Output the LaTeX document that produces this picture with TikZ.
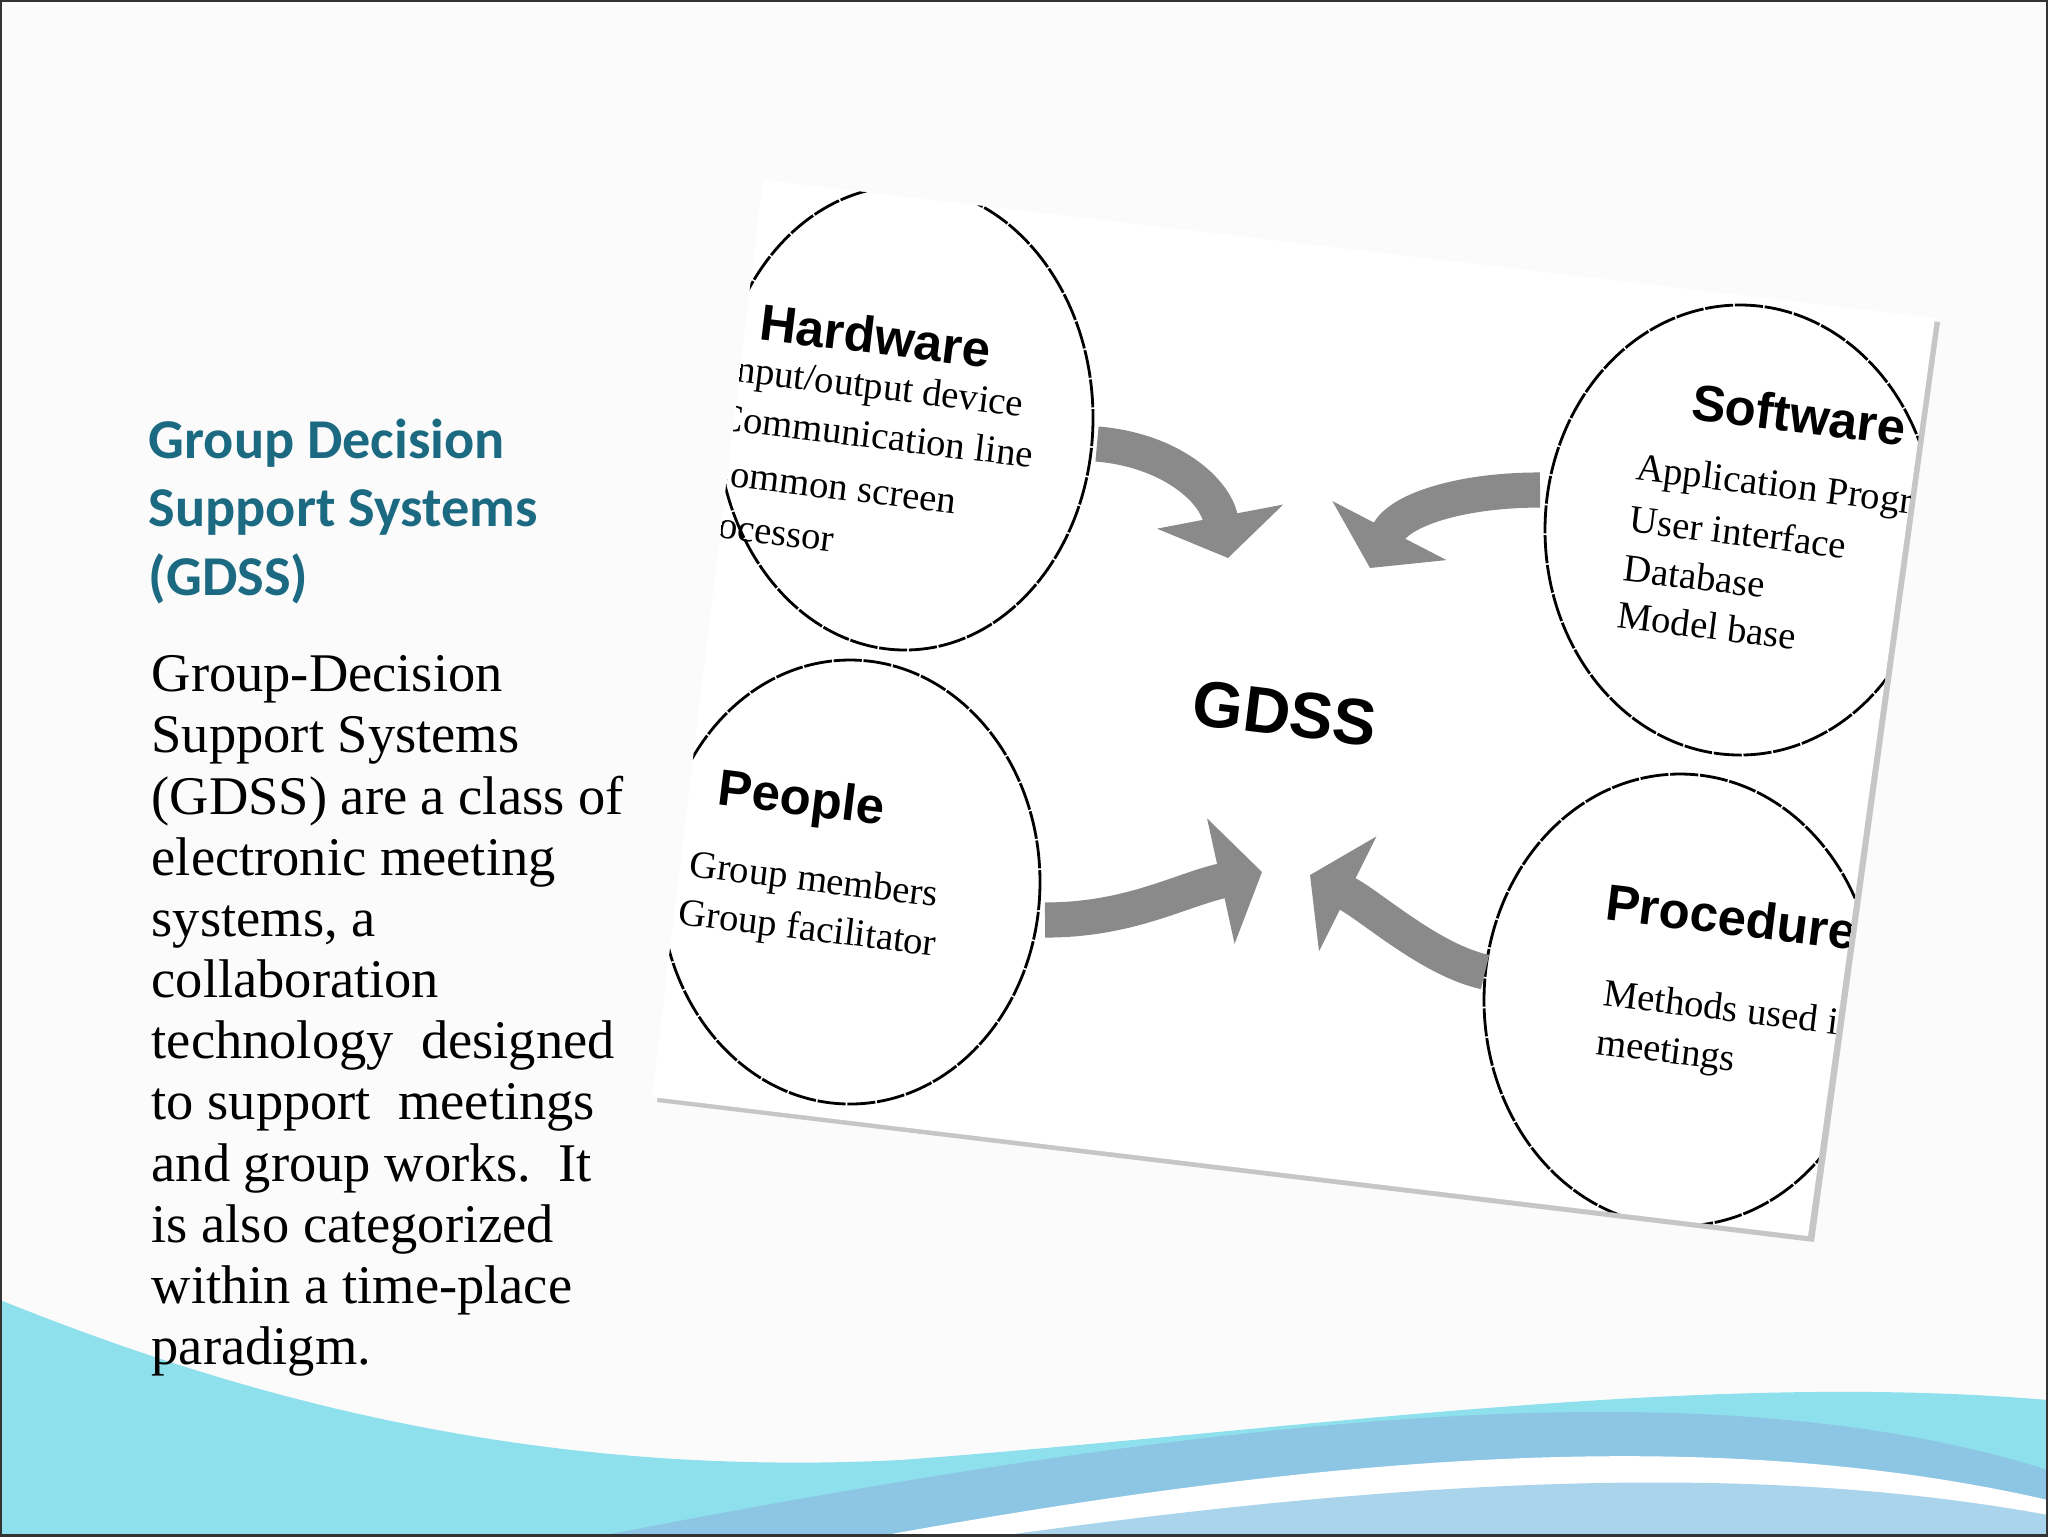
\documentclass[tikz,border=0pt]{standalone}
\usepackage{fontspec}
\setmainfont{Liberation Serif}
\newfontfamily\titlefont{Carlito}
\newfontfamily\headfont{Liberation Sans}
\usetikzlibrary{arrows.meta}
\definecolor{teal1}{HTML}{1B6A82}
\definecolor{wave1}{HTML}{8EE0EC}
\definecolor{wave2}{HTML}{6FB8DE}
\definecolor{arr}{HTML}{8A8A8A}
\tikzset{
  head/.style={font=\headfont\bfseries\fontsize{14.5}{16}\selectfont,rotate=-7},
  item/.style={font=\fontsize{11}{12}\selectfont,rotate=-7,inner sep=1pt},
  circ/.style={draw,line width=0.8pt,dash pattern=on 8pt off 0.5pt},
  garrow/.style={draw=arr,line width=10pt,-{Triangle[length=12pt,width=36pt]}}
}
\begin{document}
\begin{tikzpicture}[x=0.1mm,y=-0.1mm]
\useasboundingbox (0,0) rectangle (2048,1536);
\fill[gray!3] (0,0) rectangle (2048,1536);
% waves
\fill[wave1] (0,1300) .. controls (200,1380) and (500,1480) .. (900,1460) .. controls (1300,1430) and (1700,1370) .. (2048,1400) -- (2048,1536) -- (0,1536) -- cycle;
\fill[wave2!80] (600,1536) .. controls (1200,1420) and (1700,1360) .. (2048,1470) -- (2048,1536) -- cycle;
\fill[white] (880,1536) .. controls (1300,1460) and (1700,1420) .. (2048,1500) -- (2048,1536) -- cycle;
\fill[wave2!60] (1000,1536) .. controls (1400,1480) and (1750,1460) .. (2048,1515) -- (2048,1536) -- cycle;
% left text
\node[anchor=north west,align=left,text=teal1,inner sep=0pt,font=\titlefont\bfseries\fontsize{16}{19.5}\selectfont] (title) at (148,418) {Group Decision\\Support Systems\\(GDSS)};
\node[anchor=north west,align=left,inner sep=0pt,font=\fontsize{15.5}{17.4}\selectfont] (body) at (151,655) {Group-Decision\\Support Systems\\(GDSS) are a class of\\electronic meeting\\systems, a\\collaboration\\technology\ \ designed\\to support\ \ meetings\\and group works.\ \ It\\is also categorized\\within a time-place\\paradigm.};
% image
\fill[gray!45] (767,183) -- (1940,322) -- (1814,1242) -- (657,1102) -- cycle;
\fill[white] (763,180) -- (1935,318) -- (1808,1236) -- (652,1097) -- cycle;
\begin{scope}
\clip (763,180) -- (1935,318) -- (1808,1236) -- (652,1097) -- cycle;
\draw[circ] (905,418) ellipse [x radius=188,y radius=232];
\draw[circ] (1740,530) ellipse [x radius=195,y radius=225];
\draw[circ] (850,882) ellipse [x radius=190,y radius=222];
\draw[circ] (1680,1000) ellipse [x radius=196,y radius=226];
\node[head,anchor=west] (hw) at (748,320) {Hardware};
\node[item,anchor=east] (h1) at (1027,408) {Input/output device};
\node[item,anchor=east] (h2) at (1037,455) {Communication line};
\node[item,anchor=east] (h3) at (960,502) {Common screen};
\node[item,anchor=east] (h4) at (838,540) {Processor};
\node[head,anchor=west] (sw) at (1680,400) {Software};
\node[item,anchor=west] (s1) at (1632,470) {Application Programs};
\node[item,anchor=west] (s2) at (1626,518) {User interface};
\node[item,anchor=west] (s3) at (1620,567) {Database};
\node[item,anchor=west] (s4) at (1614,614) {Model base};
\node[head,font=\headfont\bfseries\fontsize{18.5}{20}\selectfont,anchor=center] (gdss) at (1285,713) {GDSS};
\node[head,anchor=west] (pp) at (706,790) {People};
\node[item,anchor=east] (p1) at (942,898) {Group members};
\node[item,anchor=east] (p2) at (940,947) {Group facilitator};
\node[head,anchor=west] (pr) at (1594,900) {Procedure};
\node[item,anchor=west] (r1) at (1600,992) {Methods used in};
\node[item,anchor=west] (r2) at (1592,1045) {meetings};
\coordinate (a1s) at (1097,444); \coordinate (a1e) at (1228,558);
\coordinate (a2s) at (1540,490); \coordinate (a2e) at (1370,568);
\coordinate (a3s) at (1045,920); \coordinate (a3e) at (1262,872);
\coordinate (a4s) at (1485,972); \coordinate (a4e) at (1310,875);
\draw[garrow] (a1s) .. controls (1170,450) and (1215,490) .. (a1e);
\draw[garrow] (a2s) .. controls (1460,490) and (1400,510) .. (a2e);
\draw[garrow] (a3s) .. controls (1130,920) and (1180,890) .. (a3e);
\draw[garrow] (a4s) .. controls (1430,960) and (1370,905) .. (a4e);
\end{scope}
\draw[line width=1pt,black!80] (0,0) rectangle (2048,1536);
\end{tikzpicture}
\end{document}
